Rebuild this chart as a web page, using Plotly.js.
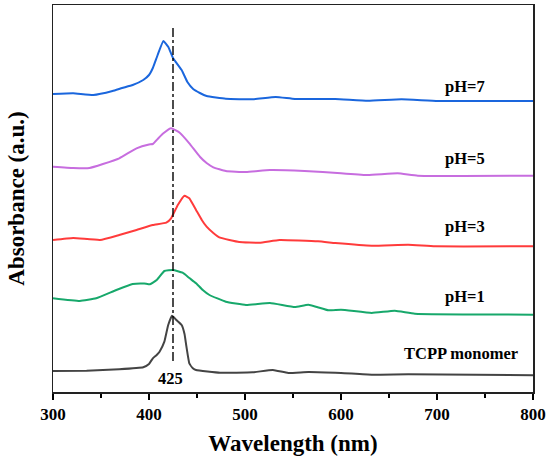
<!DOCTYPE html>
<html>
<head>
<meta charset="utf-8">
<script src="https://cdn.plot.ly/plotly-3.0.1.min.js"></script>
<style>html,body{margin:0;padding:0;background:#fff;}#chart{width:550px;height:466px;}</style>
</head>
<body>
<div id="chart"></div>
<script>
// Wavelength (nm) and stacked absorbance (arbitrary units, offset curves as drawn)
const wlPH7 = [300,321,342,362,372,383,394,400,404,409,415,420,425,434,440,446,453,460,480,508,532,552,594,628,663,701,800];
const absPH7 = [298,298.7,297,301,304,307,312,317,324,337,351,345.3,334,322,310,303,299,296,293.3,292.7,295,293,293,291.3,292.7,291,291];

const wlPH5 = [300,321,338,352,369,387,400,404,410,415,423,432,442,453,460,467,480,501,526,562,600,628,659,680,800];
const absPH5 = [225.3,224,224,228,233.7,243.7,247.5,248,254,258.7,263.7,259.3,248.7,235.3,229,224.7,221,220,222,221,218.7,217,218.7,216.3,216.3];

const wlPH3 = [300,321,349,369,387,404,418,423,430,437,442,449,455,460,467,474,494,515,536,576,594,632,670,698,800];
const absPH3 = [152,154,152,157,162,167,169.3,173.7,187,196.3,193.7,182,172,165.3,159,154.3,150,149.3,152,150.7,149,146.3,147.3,145.7,145.7];

const wlPH1 = [300,328,345,366,383,395,401,408,416,425,435,442,449,456,463,480,501,526,552,566,587,600,632,656,677,800];
const absPH1 = [93.7,91,93.7,102,108,108.5,107.7,112,121,122,119.3,114,108.7,102,97,90.3,87,89,85,87.3,81.7,82.3,79,81.3,78.3,77.3];

const wlTCPP = [300,335,369,394,400,404,408,411,416,420,424,428.5,434,437,439,442,446,449,474,508,529,545,566,600,632,670,800];
const absTCPP = [21,21.3,22.7,24.7,28,33.7,37,40.3,50.3,67,76.3,72,67,58,45.3,28.7,23.5,22,19.3,19.7,22,19,20,19,17.3,17.7,16.7];

const seriesNames = ["pH=7","pH=5","pH=3","pH=1","TCPP monomer"];
const peakLabel = "425";
const peakWl = [425, 425];
const peakLineAbs = [31, 366];
const labelWl = [729, 729, 729, 729, 725, 422];
const labelAbs = [306, 233.5, 166, 95.5, 39, 14];
const xTickVals = [300,400,500,600,700,800];

const colors = ["#1a66dd","#c76ddf","#ff3b3b","#17a86b","#444444"];
const wls = [wlPH7, wlPH5, wlPH3, wlPH1, wlTCPP];
const abss = [absPH7, absPH5, absPH3, absPH1, absTCPP];

const serif = "'Times New Roman', 'Liberation Serif', 'DejaVu Serif', serif";
const traces = wls.map((w, i) => ({
  x: w, y: abss[i], type: "scatter", mode: "lines", name: seriesNames[i],
  line: {color: colors[i], width: 2, shape: "spline", smoothing: 0.35}, hoverinfo: "skip"
}));
traces.push({x: peakWl, y: peakLineAbs, type: "scatter", mode: "lines",
  line: {color: "#000", width: 1.4, dash: "dashdot"}, hoverinfo: "skip"});

const labelTexts = seriesNames.concat([peakLabel]);
const annotations = labelTexts.map((t, i) => ({
  x: labelWl[i], y: labelAbs[i], xref: "x", yref: "y", text: "<b>" + t + "</b>", showarrow: false,
  font: {family: serif, size: 16.5, color: "#000"}
}));

const layout = {
  width: 550, height: 466,
  margin: {l: 53, r: 17, t: 5, b: 74},
  paper_bgcolor: "#fff", plot_bgcolor: "#fff",
  showlegend: false,
  font: {family: serif, color: "#000"},
  xaxis: {
    range: [300, 800], tickvals: xTickVals, ticktext: xTickVals.map(v => "<b>" + v + "</b>"),
    ticks: "outside", ticklen: 6, tickwidth: 1.5, tickcolor: "#000",
    minor: {dtick: 50, tick0: 300, ticks: "outside", ticklen: 4, tickwidth: 1.2, tickcolor: "#000", showgrid: false},
    showgrid: false, zeroline: false, showline: true, linecolor: "#222", linewidth: 1.5, mirror: true,
    tickfont: {family: serif, size: 17, color: "#000"},
    title: {text: "<b>Wavelength (nm)</b>", font: {family: serif, size: 23, color: "#000"}, standoff: 12}
  },
  yaxis: {
    range: [0, 387], showticklabels: false, ticks: "", showgrid: false, zeroline: false,
    showline: true, linecolor: "#222", linewidth: 1.5, mirror: true,
    title: {text: "<b>Absorbance (a.u.)</b>", font: {family: serif, size: 23, color: "#000"}, standoff: 20}
  },
  annotations: annotations
};

Plotly.newPlot("chart", traces, layout, {displayModeBar: false, staticPlot: true});
</script>
</body>
</html>
